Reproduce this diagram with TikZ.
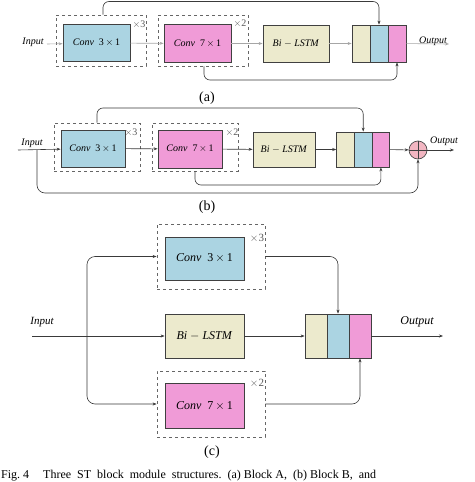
\documentclass[tikz,border=0pt]{standalone}
\usepackage{fontspec}
\setmainfont{Liberation Serif}
\usetikzlibrary{arrows.meta,positioning}

\definecolor{convblue}{HTML}{ABD4E2}
\definecolor{convpink}{HTML}{F09BD7}
\definecolor{lstmbeige}{HTML}{ECEACD}
\definecolor{sumpink}{HTML}{F2B6C2}
\definecolor{linegray}{HTML}{3A3A3A}

\tikzset{
  box/.style={draw=black!75, line width=0.8pt, inner sep=0pt, font=\itshape},
  bluebox/.style={box, fill=convblue},
  pinkbox/.style={box, fill=convpink},
  beigebox/.style={box, fill=lstmbeige},
  dashbox/.style={draw=black!60, dashed, line width=0.8pt, inner sep=0pt},
  repeat/.style={font=\fontsize{10}{12}\selectfont, text=black!65},
  flow/.style={draw=linegray, line width=0.6pt, -{Stealth[length=4pt,width=3pt]}},
  faint/.style={flow, draw=black!35},
  tag/.style={font=\fontsize{14}{16}\selectfont},
}

\begin{document}
\begin{tikzpicture}[x=1pt,y=-1pt]

    % --- Canvas ---
    \useasboundingbox (0,0) rectangle (474,482);

    % ===== Block (a) =====

    % --- Nodes ---
    \node[dashbox, minimum width=90, minimum height=51] (dashA3) at (101,40.5) {};
    \node[bluebox, minimum width=67, minimum height=37, font=\fontsize{10}{12}\selectfont] (convA3) at (96.5,43) {\textit{Conv}\ \ 3\,$\times$\,1};
    \node[repeat] at (139,25) {$\times$3};

    \node[dashbox, minimum width=90, minimum height=51] (dashA7) at (203,40.5) {};
    \node[pinkbox, minimum width=67, minimum height=38, font=\fontsize{10}{12}\selectfont] (convA7) at (197.5,43.5) {\textit{Conv}\ \ 7\,$\times$\,1};
    \node[repeat] at (240,24) {$\times$2};

    \node[beigebox, minimum width=66, minimum height=37, font=\fontsize{10}{12}\selectfont] (lstmA) at (296,43.5) {\textit{Bi} $-$ \textit{LSTM}};

    % concatenation cells
    \node[beigebox, minimum width=18, minimum height=37] (catA1) at (361,43.5) {};
    \node[bluebox, minimum width=18, minimum height=37] (catA2) at (379,43.5) {};
    \node[pinkbox, minimum width=18, minimum height=37] (catA3) at (397,43.5) {};

    \node[font=\fontsize{10}{12}\selectfont\itshape] (inA) at (33,42) {Input};
    \node[font=\fontsize{10}{12}\selectfont\itshape] (outA) at (433,41) {Output};
    \coordinate (inAstart) at (47,44);
    \coordinate (outAend) at (449,44);

    % --- Connectors ---
    \draw[faint] (inAstart) -- (convA3);
    \draw[faint] (convA3) -- (convA7);
    \draw[faint] (convA7) -- (lstmA);
    \draw[faint] (lstmA) -- (catA1);
    \draw[faint] (catA3) -- (outAend);
    \draw[flow, rounded corners=6pt] (dashA3.north -| 103,0) -- (103,1.5) -| (catA2.north);
    \draw[flow, rounded corners=6pt] (dashA7.south -| 204,0) -- (204,80) -| (catA3.south);

    \node[tag] at (207,98) {(a)};

    % ===== Block (b) =====

    % --- Nodes ---
    \node[dashbox, minimum width=86, minimum height=48] (dashB3) at (97,147) {};
    \node[bluebox, minimum width=64, minimum height=37, font=\fontsize{10}{12}\selectfont] (convB3) at (93,148.5) {\textit{Conv}\ \ 3\,$\times$\,1};
    \node[repeat] at (131,133) {$\times$3};

    \node[dashbox, minimum width=86, minimum height=48] (dashB7) at (195,147) {};
    \node[pinkbox, minimum width=64, minimum height=38, font=\fontsize{10}{12}\selectfont] (convB7) at (190,149) {\textit{Conv}\ \ 7\,$\times$\,1};
    \node[repeat] at (232,133) {$\times$2};

    \node[beigebox, minimum width=62, minimum height=35, font=\fontsize{10}{12}\selectfont] (lstmB) at (284,149.5) {\textit{Bi} $-$ \textit{LSTM}};

    % concatenation cells
    \node[beigebox, minimum width=17.7, minimum height=35] (catB1) at (345.5,149.5) {};
    \node[bluebox, minimum width=17.7, minimum height=35] (catB2) at (363.2,149.5) {};
    \node[pinkbox, minimum width=17.7, minimum height=35] (catB3) at (380.9,149.5) {};

    % sum
    \node[circle, draw=black!70, fill=sumpink, line width=0.7pt, minimum size=18, inner sep=0pt] (sumB) at (418,150) {};
    \draw[black!75, line width=0.8pt] (sumB.north) -- (sumB.south) (sumB.west) -- (sumB.east);

    \node[font=\fontsize{10}{12}\selectfont\itshape] (inB) at (32,143) {Input};
    \node[font=\fontsize{10}{12}\selectfont\itshape] (outB) at (444,141) {Output};
    \coordinate (inBstart) at (18,150);
    \coordinate (inBsplit) at (37,150);
    \coordinate (outBend) at (454,150);

    % --- Connectors ---
    \draw[flow] (inBstart) -- (convB3);
    \draw[flow] (convB3) -- (convB7);
    \draw[flow] (convB7) -- (lstmB);
    \draw[flow] (lstmB) -- (catB1);
    \draw[flow] (catB3) -- (sumB);
    \draw[flow] (sumB) -- (outBend);
    \draw[flow, rounded corners=6pt] (dashB3.north -| 97,0) -- (97,108) -| (catB2.north);
    \draw[flow, rounded corners=6pt] (dashB7.south -| 195,0) -- (195,185) -| (catB3.south);
    \draw[flow, rounded corners=8pt] (inBsplit) -- (37,193) -| (sumB.south);

    \node[tag] at (207,207) {(b)};

    % ===== Block (c) =====

    % --- Nodes ---
    \node[dashbox, minimum width=108, minimum height=65] (dashC3) at (211,256.5) {};
    \node[bluebox, minimum width=79, minimum height=43, font=\fontsize{12}{14}\selectfont] (convC3) at (204.5,258.5) {\textit{Conv}\ \ 3\,$\times$\,1};
    \node[repeat, font=\fontsize{11}{13}\selectfont] at (257,238) {$\times$3};

    \node[beigebox, minimum width=79, minimum height=44, font=\fontsize{12}{14}\selectfont] (lstmC) at (204.5,336) {\textit{Bi} $-$ \textit{LSTM}};

    \node[dashbox, minimum width=108, minimum height=66] (dashC7) at (211,404) {};
    \node[pinkbox, minimum width=79, minimum height=45, font=\fontsize{12}{14}\selectfont] (convC7) at (204.5,406) {\textit{Conv}\ \ 7\,$\times$\,1};
    \node[repeat, font=\fontsize{11}{13}\selectfont] at (257,383) {$\times$2};

    % concatenation cells
    \node[beigebox, minimum width=22, minimum height=44] (catC1) at (316,336) {};
    \node[bluebox, minimum width=22, minimum height=44] (catC2) at (338,336) {};
    \node[pinkbox, minimum width=22, minimum height=44] (catC3) at (360,336) {};

    \node[font=\fontsize{11}{13}\selectfont\itshape] (inC) at (42,322) {Input};
    \node[font=\fontsize{12}{14}\selectfont\itshape] (outC) at (417,322) {Output};
    \coordinate (inCstart) at (32,336);
    \coordinate (inCsplit) at (87,336);
    \coordinate (outCend) at (443,336);

    % --- Connectors ---
    \draw[flow] (inCstart) -- (lstmC);
    \draw[flow, rounded corners=8pt] (inCsplit) |- (dashC3.west);
    \draw[flow, rounded corners=8pt] (inCsplit) |- (dashC7.west);
    \draw[flow] (lstmC) -- (catC1);
    \draw[flow, rounded corners=8pt] (dashC3.east) -| (catC2.north);
    \draw[flow, rounded corners=8pt] (dashC7.east) -| (catC3.south);
    \draw[flow] (catC3) -- (outCend);

    \node[tag] at (212,452) {(c)};

    % --- Caption ---
    \node[anchor=base west, inner sep=0pt, font=\fontsize{12}{14}\selectfont] (caption) at (1,478)
      {Fig.\ 4\hspace{14pt}Three\ \ ST\ \ block\ \ module\ \ structures.\ \ (a)\ Block\ A,\ \ (b)\ Block\ B,\ \ and};

\end{tikzpicture}
\end{document}
